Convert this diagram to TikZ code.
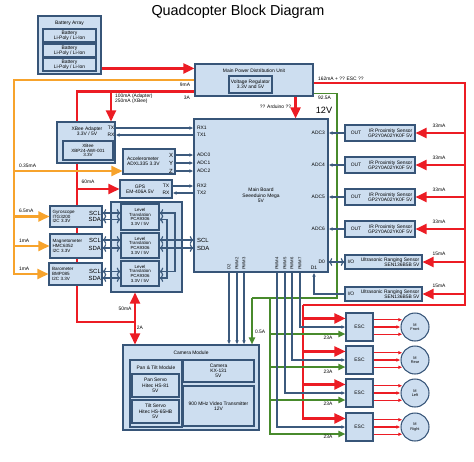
\documentclass[tikz,border=0pt]{standalone}
\usepackage{fontspec}
\setmainfont{Liberation Sans}
\usetikzlibrary{arrows.meta,backgrounds}

\definecolor{boxfill}{RGB}{205,222,240}
\definecolor{boxline}{RGB}{55,85,120}
\definecolor{sigblue}{RGB}{60,90,125}
\definecolor{pwrred}{RGB}{236,28,36}
\definecolor{pwrorange}{RGB}{247,163,44}
\definecolor{pwrgreen}{RGB}{72,138,44}

\tikzset{
  blk/.style={draw=boxline, fill=boxfill, line width=1.5pt, inner sep=0pt, align=center, font=\fontsize{7}{7.5}\selectfont},
  mot/.style={circle, draw=boxline, fill=boxfill, line width=1.5pt, minimum size=14mm, inner sep=0pt, align=center, font=\fontsize{5.5}{6}\selectfont},
  txt/.style={inner sep=0pt, align=center, font=\fontsize{7}{7.5}\selectfont},
  pinl/.style={inner sep=0pt, font=\fontsize{7}{7.5}\selectfont},
  bigpin/.style={inner sep=0pt, font=\fontsize{8.5}{9}\selectfont},
  vpin/.style={inner sep=0pt, rotate=90, anchor=west, font=\fontsize{6}{6.5}\selectfont},
  sig/.style={draw=sigblue, line width=1.7pt, -{Latex[length=2mm,width=1.8mm]}},
  rline/.style={draw=pwrred, line width=3.2pt},
  rarrow/.style={rline, -{Triangle[length=5.5mm,width=5mm]}},
  oline/.style={draw=pwrorange, line width=3.2pt},
  oarrow/.style={oline, -{Triangle[length=5.5mm,width=5mm]}},
  gline/.style={draw=pwrgreen, line width=2.4pt},
  garrow/.style={gline, -{Triangle[length=3.5mm,width=3mm]}},
  marrow/.style={draw=pwrred, line width=1.6pt, -{Latex[length=2mm,width=1.8mm]}}
}

\begin{document}
\begin{tikzpicture}[x=0.5mm, y=-0.5mm]
  \useasboundingbox (0,0) rectangle (474,461);
  \node[txt] (title) at (238,12) {\fontsize{20.5}{24}\selectfont Quadcopter Block Diagram};

  \node[blk, minimum width=31.5mm, minimum height=29mm] (batt) at (69.5,45) {};
  \node[txt] (battl) at (69.5,23.5) {Battery Array};
  \node[blk, minimum width=26.5mm, minimum height=6.5mm] (bat1) at (69.5,35.5) {Battery\\Li-Poly / Li-Ion};
  \node[blk, minimum width=26.5mm, minimum height=6.5mm] (bat2) at (69.5,50.5) {Battery\\Li-Poly / Li-Ion};
  \node[blk, minimum width=26.5mm, minimum height=6.5mm] (bat3) at (69.5,64.5) {Battery\\Li-Poly / Li-Ion};

  \node[blk, minimum width=59mm, minimum height=16mm] (pdu) at (254,80) {};
  \node[txt] (pdul) at (254,71) {Main Power Distribution Unit};
  \node[blk, minimum width=21.5mm, minimum height=8.5mm] (vreg) at (250.5,84.5) {Voltage Regulator\\3.3V and 5V};

  \node[blk, minimum width=67mm, minimum height=76.5mm] (main) at (261,195.5) {Main Board\\Seeeduino Mega\\5V};
  \node[pinl, anchor=west] (mrx1) at (197,128) {RX1};
  \node[pinl, anchor=west] (mtx1) at (197,135) {TX1};
  \node[pinl, anchor=west] (madc0) at (197,155) {ADC0};
  \node[pinl, anchor=west] (madc1) at (197,163) {ADC1};
  \node[pinl, anchor=west] (madc2) at (197,171) {ADC2};
  \node[pinl, anchor=west] (mrx2) at (197,186) {RX2};
  \node[pinl, anchor=west] (mtx2) at (197,193) {TX2};
  \node[bigpin, anchor=west] (mscl) at (197,240) {SCL};
  \node[bigpin, anchor=west] (msda) at (197,248) {SDA};
  \node[pinl, anchor=east] (madc3) at (325,133) {ADC3};
  \node[pinl, anchor=east] (madc4) at (325,165) {ADC4};
  \node[pinl, anchor=east] (madc5) at (325,197) {ADC5};
  \node[pinl, anchor=east] (madc6) at (325,229) {ADC6};
  \node[pinl, anchor=east] (md0) at (325,262) {D0};
  \node[pinl] (pd1) at (314,268) {D1};
  \node[vpin] (pd2) at (229,270) {D2};
  \node[vpin] (pp2) at (237,270) {PWM2};
  \node[vpin] (pp3) at (244,270) {PWM3};
  \node[vpin] (pp4) at (277,270) {PWM4};
  \node[vpin] (pp5) at (285,270) {PWM5};
  \node[vpin] (pp6) at (292,270) {PWM6};
  \node[vpin] (pp7) at (300,270) {PWM7};

  \node[blk, minimum width=29mm, minimum height=20.5mm] (xbee) at (86,142.5) {};
  \node[txt] (xbeel) at (87,131) {XBee Adapter\\3.3V / 5V};
  \node[blk, minimum width=25mm, minimum height=9.5mm, font=\fontsize{6.5}{6.8}\selectfont] (xbp) at (88,150.5) {XBee\\XBP24-AWI-001\\3.3V};
  \node[pinl] (xtx) at (111,128) {TX};
  \node[pinl] (xrx) at (111,135) {RX};

  \node[blk, minimum width=26mm, minimum height=12.5mm] (acc) at (149,161.5) {};
  \node[txt, anchor=west, align=left] (accl) at (127,161) {Accelerometer\\ADXL335 3.3V};
  \node[bigpin] (ax) at (171,155) {X};
  \node[bigpin] (ay) at (171,163) {Y};
  \node[bigpin] (az) at (171,171) {Z};

  \node[blk, minimum width=26mm, minimum height=9mm] (gps) at (146,189) {};
  \node[txt] (gpsl) at (140,189) {GPS\\EM-406A 5V};
  \node[pinl] (gtx) at (166,186) {TX};
  \node[pinl] (grx) at (166,193) {RX};

  \node[blk, minimum width=26mm, minimum height=10.5mm] (gyro) at (76,216.5) {};
  \node[txt, anchor=west, align=left, font=\fontsize{6.5}{6.8}\selectfont] (gyrol) at (52.5,216.5) {Gyroscope\\ITG3200\\I2C 3.3V};
  \node[bigpin, anchor=east] (gscl) at (101,213) {SCL};
  \node[bigpin, anchor=east] (gsda) at (101,219.5) {SDA};
  \node[blk, minimum width=26mm, minimum height=12mm] (mag) at (76,246) {};
  \node[txt, anchor=west, align=left, font=\fontsize{6.5}{6.8}\selectfont] (magl) at (52.5,246) {Magnetometer\\HMC6352\\I2C 3.3V};
  \node[bigpin, anchor=east] (mgscl) at (101,240) {SCL};
  \node[bigpin, anchor=east] (mgsda) at (101,248) {SDA};
  \node[blk, minimum width=26.5mm, minimum height=11mm] (baro) at (75.5,274) {};
  \node[txt, anchor=west, align=left, font=\fontsize{6.5}{6.8}\selectfont] (barol) at (52,274) {Barometer\\BMP085\\I2C 3.3V};
  \node[bigpin, anchor=east] (bscl) at (101,271.5) {SCL};
  \node[bigpin, anchor=east] (bsda) at (101,278) {SDA};

  \node[blk, minimum width=35.5mm, minimum height=45mm] (lvl) at (146.5,247) {};
  \node[blk, minimum width=19mm, minimum height=13mm, font=\fontsize{6.3}{6.6}\selectfont] (lv1) at (140,217) {Level\\Translation\\PCA9306\\3.3V / 5V};
  \node[blk, minimum width=19mm, minimum height=12.5mm, font=\fontsize{6.3}{6.6}\selectfont] (lv2) at (140,245.5) {Level\\Translation\\PCA9306\\3.3V / 5V};
  \node[blk, minimum width=19mm, minimum height=12.5mm, font=\fontsize{6.3}{6.6}\selectfont] (lv3) at (140,273.5) {Level\\Translation\\PCA9306\\3.3V / 5V};

  \node[blk, minimum width=68mm, minimum height=42.5mm] (cam) at (191,387.5) {};
  \node[txt] (caml) at (191,353) {Camera Module};
  \node[blk, minimum width=26mm, minimum height=33.5mm] (pt) at (156,393.5) {};
  \node[txt] (ptl) at (156,367.5) {Pan \& Tilt Module};
  \node[blk, minimum width=23.5mm, minimum height=11.5mm] (pan) at (155.5,385.5) {Pan Servo\\Hitec HS-81\\5V};
  \node[blk, minimum width=23.5mm, minimum height=11.5mm] (tilt) at (155.5,411.5) {Tilt Servo\\Hitec HS-65HB\\5V};
  \node[blk, minimum width=35.5mm, minimum height=11mm] (camr) at (218.5,371) {Camera\\KX-131\\5V};
  \node[blk, minimum width=35.5mm, minimum height=20mm] (vtx) at (218.5,406) {900 MHz Video Transmitter\\12V};

  \node[blk, minimum width=35mm, minimum height=8mm] (ir1) at (380,133) {};
  \node[blk, minimum width=35mm, minimum height=8mm] (ir2) at (380,165) {};
  \node[blk, minimum width=35mm, minimum height=8mm] (ir3) at (380,197) {};
  \node[blk, minimum width=35mm, minimum height=8mm] (ir4) at (380,229) {};
  \node[pinl] (io1) at (356,133) {OUT};
  \node[pinl] (io2) at (356,165) {OUT};
  \node[pinl] (io3) at (356,197) {OUT};
  \node[pinl] (io4) at (356,229) {OUT};
  \node[txt, anchor=east, align=right] (irt1) at (412.5,133) {IR Proximity Sensor\\GP2Y0A02YK0F 5V};
  \node[txt, anchor=east, align=right] (irt2) at (412.5,165) {IR Proximity Sensor\\GP2Y0A02YK0F 5V};
  \node[txt, anchor=east, align=right] (irt3) at (412.5,197) {IR Proximity Sensor\\GP2Y0A02YK0F 5V};
  \node[txt, anchor=east, align=right] (irt4) at (412.5,229) {IR Proximity Sensor\\GP2Y0A02YK0F 5V};

  \node[blk, minimum width=38.5mm, minimum height=7mm] (us1) at (383.5,262) {};
  \node[blk, minimum width=38.5mm, minimum height=7mm] (us2) at (383.5,294) {};
  \node[pinl] (uio1) at (351,262) {I/O};
  \node[pinl] (uio2) at (351,294) {I/O};
  \node[txt, anchor=east, align=right] (ust1) at (419.5,262) {Ultrasonic Ranging Sensor\\SEN136B5B 5V};
  \node[txt, anchor=east, align=right] (ust2) at (419.5,294) {Ultrasonic Ranging Sensor\\SEN136B5B 5V};

  \node[blk, minimum width=13.5mm, minimum height=14mm] (esc1) at (359.5,327) {ESC};
  \node[blk, minimum width=13.5mm, minimum height=14mm] (esc2) at (359.5,360) {ESC};
  \node[blk, minimum width=13.5mm, minimum height=14mm] (esc3) at (359.5,393) {ESC};
  \node[blk, minimum width=13.5mm, minimum height=14mm] (esc4) at (359.5,427) {ESC};
  \node[mot] (m1) at (415,327) {M\\Front};
  \node[mot] (m2) at (415,360) {M\\Rear};
  \node[mot] (m3) at (415,393) {M\\Left};
  \node[mot] (m4) at (415,427) {M\\Right};

  \coordinate (pin) at ([yshift=-2.5mm]pdu.north west);
  \coordinate (pr) at ([yshift=2.5mm]pdu.south west);
  \coordinate (pe) at ([yshift=-1.5mm]pdu.east);
  \coordinate (pg) at ([yshift=1.5mm]pdu.south east);
  \coordinate (pa) at ([xshift=-9mm]pdu.south east);
  \coordinate (ocorner) at (14,80);
  \coordinate (rcorner) at (77,322);
  \coordinate (rcam) at (135,322);
  \coordinate (rrc) at (465,305);
  \coordinate (resc) at (303,305);
  \coordinate (gcorner) at (337,298);
  \coordinate (gcam) at (252,298);
  \coordinate (gesc) at (270,298);
  \coordinate (sclbus) at (175,0);
  \coordinate (sdabus) at (167,0);
  \coordinate (r1) at ([yshift=-3mm]esc1.north west);
  \coordinate (r2) at ([yshift=-3mm]esc2.north west);
  \coordinate (r3) at ([yshift=-3mm]esc3.north west);
  \coordinate (r4) at ([yshift=-3mm]esc4.north west);
  \coordinate (g1) at ([yshift=-3.5mm]esc1.west);
  \coordinate (g2) at ([yshift=-3.5mm]esc2.west);
  \coordinate (g3) at ([yshift=-3.5mm]esc3.west);
  \coordinate (g4) at ([yshift=-3.5mm]esc4.west);

  \begin{scope}[on background layer]
    \draw[rline] (pr) -| (rcorner) -- (rcam);
  \end{scope}

  \draw[rarrow] (batt.east |- pin) -- (pin);
  \draw[rarrow] (pr -| xtx) -- (xtx |- xbee.north);
  \draw[rarrow] (rcorner |- gps.west) -- (gps.west);
  \draw[rline, {Triangle[length=5.5mm,width=5mm]}-{Triangle[length=5.5mm,width=5mm]}] (rcam |- lvl.south) -- (rcam |- cam.north);
  \draw[rarrow] (pa) -- (pa |- main.north);

  \draw[oarrow] (pdu.west) -- (ocorner) |- (baro.west);
  \draw[oarrow] (ocorner |- az) -- (az -| acc.west);
  \draw[oarrow] (ocorner |- gyro.west) -- (gyro.west);
  \draw[oarrow] (ocorner |- mag.west) -- (mag.west);

  \draw[rline] (pe) -| (rrc) -- (resc);
  \draw[rarrow] (rrc |- ir1.east) -- (ir1.east);
  \draw[rarrow] (rrc |- ir2.east) -- (ir2.east);
  \draw[rarrow] (rrc |- ir3.east) -- (ir3.east);
  \draw[rarrow] (rrc |- ir4.east) -- (ir4.east);
  \draw[rarrow] (rrc |- us1.east) -- (us1.east);
  \draw[rarrow] (rrc |- us2.east) -- (us2.east);
  \draw[rarrow] (resc) |- (r4);
  \draw[rarrow] (resc |- r1) -- (r1);
  \draw[rarrow] (resc |- r2) -- (r2);
  \draw[rarrow] (resc |- r3) -- (r3);

  \draw[gline] (pg) -| (gcorner) -- (gcam);
  \draw[garrow] (gcam) -- (gcam |- cam.north);
  \draw[garrow] (gesc) |- (g4);
  \draw[garrow] (gesc |- g1) -- (g1);
  \draw[garrow] (gesc |- g2) -- (g2);
  \draw[garrow] (gesc |- g3) -- (g3);

  \draw[sig] (xtx -| xbee.east) -- (xtx -| main.west);
  \draw[sig] (xrx -| main.west) -- (xrx -| xbee.east);
  \draw[sig] (ax -| acc.east) -- (ax -| main.west);
  \draw[sig] (ay -| acc.east) -- (ay -| main.west);
  \draw[sig] (az -| acc.east) -- (az -| main.west);
  \draw[sig] (gtx -| gps.east) -- (gtx -| main.west);
  \draw[sig] (grx -| main.west) -- (grx -| gps.east);

  \draw[sig, <->] (gscl -| gyro.east) -- (gscl -| lv1.west);
  \draw[sig, <->] (gsda -| gyro.east) -- (gsda -| lv1.west);
  \draw[sig, <->] (mgscl -| mag.east) -- (mgscl -| lv2.west);
  \draw[sig, <->] (mgsda -| mag.east) -- (mgsda -| lv2.west);
  \draw[sig, <->] (bscl -| baro.east) -- (bscl -| lv3.west);
  \draw[sig, <->] (bsda -| baro.east) -- (bsda -| lv3.west);
  \draw[sig, <->] (gscl -| lv1.east) -| (sclbus |- bscl) -- (bscl -| lv3.east);
  \draw[sig, <->] (gsda -| lv1.east) -| (sdabus |- bsda) -- (bsda -| lv3.east);
  \draw[sig, <->] (mgscl -| lv2.east) -- (mgscl -| main.west);
  \draw[sig, <->] (mgsda -| lv2.east) -- (mgsda -| main.west);
  \fill[sigblue] (sclbus |- mgscl) circle (1.6pt);
  \fill[sigblue] (sdabus |- mgsda) circle (1.6pt);

  \draw[sig] (ir1.west) -- (ir1.west -| main.east);
  \draw[sig] (ir2.west) -- (ir2.west -| main.east);
  \draw[sig] (ir3.west) -- (ir3.west -| main.east);
  \draw[sig] (ir4.west) -- (ir4.west -| main.east);
  \draw[sig, <->] (us1.west) -- (us1.west -| main.east);
  \draw[sig] (us2.west) -| (pd1 |- main.south);

  \draw[sig] (pd2 |- main.south) -- (pd2 |- cam.north);
  \draw[sig] (pp2 |- main.south) -- (pp2 |- cam.north);
  \draw[sig] (pp3 |- main.south) -- (pp3 |- cam.north);
  \draw[sig] (pp4 |- main.south) |- (esc4.west);
  \draw[sig] (pp5 |- main.south) |- (esc3.west);
  \draw[sig] (pp6 |- main.south) |- (esc2.west);
  \draw[sig] (pp7 |- main.south) |- (esc1.west);

  \draw[marrow] (esc1.east |- m1.150) -- (m1.150);
  \draw[marrow] (esc1.east) -- (m1.west);
  \draw[marrow] (esc1.east |- m1.210) -- (m1.210);
  \draw[marrow] (esc2.east |- m2.150) -- (m2.150);
  \draw[marrow] (esc2.east) -- (m2.west);
  \draw[marrow] (esc2.east |- m2.210) -- (m2.210);
  \draw[marrow] (esc3.east |- m3.150) -- (m3.150);
  \draw[marrow] (esc3.east) -- (m3.west);
  \draw[marrow] (esc3.east |- m3.210) -- (m3.210);
  \draw[marrow] (esc4.east |- m4.150) -- (m4.150);
  \draw[marrow] (esc4.east) -- (m4.west);
  \draw[marrow] (esc4.east |- m4.210) -- (m4.210);

  \node[txt] (l9ma) at (185,85) {9mA};
  \node[txt] (l3a) at (187,98) {3A};
  \node[txt, anchor=west, align=left] (lxb) at (115,98.5) {100mA (Adapter)\\250mA (XBee)};
  \node[txt, anchor=west] (l035) at (19,166) {0.35mA};
  \node[txt] (l60) at (88,182) {60mA};
  \node[txt, anchor=west] (l65) at (19,211) {6.5mA};
  \node[txt, anchor=west] (l1a) at (19,241) {1mA};
  \node[txt, anchor=west] (l1b) at (19,269) {1mA};
  \node[txt] (l50) at (125,309) {50mA};
  \node[txt] (l2a) at (140,328) {2A};
  \node[txt] (lard) at (275.5,107) {?? Arduino ??};
  \node[txt] (l925) at (324.5,98) {92.5A};
  \node[txt, font=\fontsize{13}{14}\selectfont] (l12v) at (324,110) {12V};
  \node[txt, anchor=west] (lesc) at (318,79) {162mA + ?? ESC ??};
  \node[txt] (l33a) at (439,126) {33mA};
  \node[txt] (l33b) at (439,158) {33mA};
  \node[txt] (l33c) at (439,190) {33mA};
  \node[txt] (l33d) at (439,222) {33mA};
  \node[txt] (l15a) at (439,254) {15mA};
  \node[txt] (l15b) at (439,286) {15mA};
  \node[txt, anchor=west] (l05) at (255,332) {0.5A};
  \node[txt] (l23a) at (328,338) {23A};
  \node[txt] (l23b) at (328,372) {23A};
  \node[txt] (l23c) at (328,404) {23A};
  \node[txt] (l23d) at (328,437) {23A};
\end{tikzpicture}
\end{document}
